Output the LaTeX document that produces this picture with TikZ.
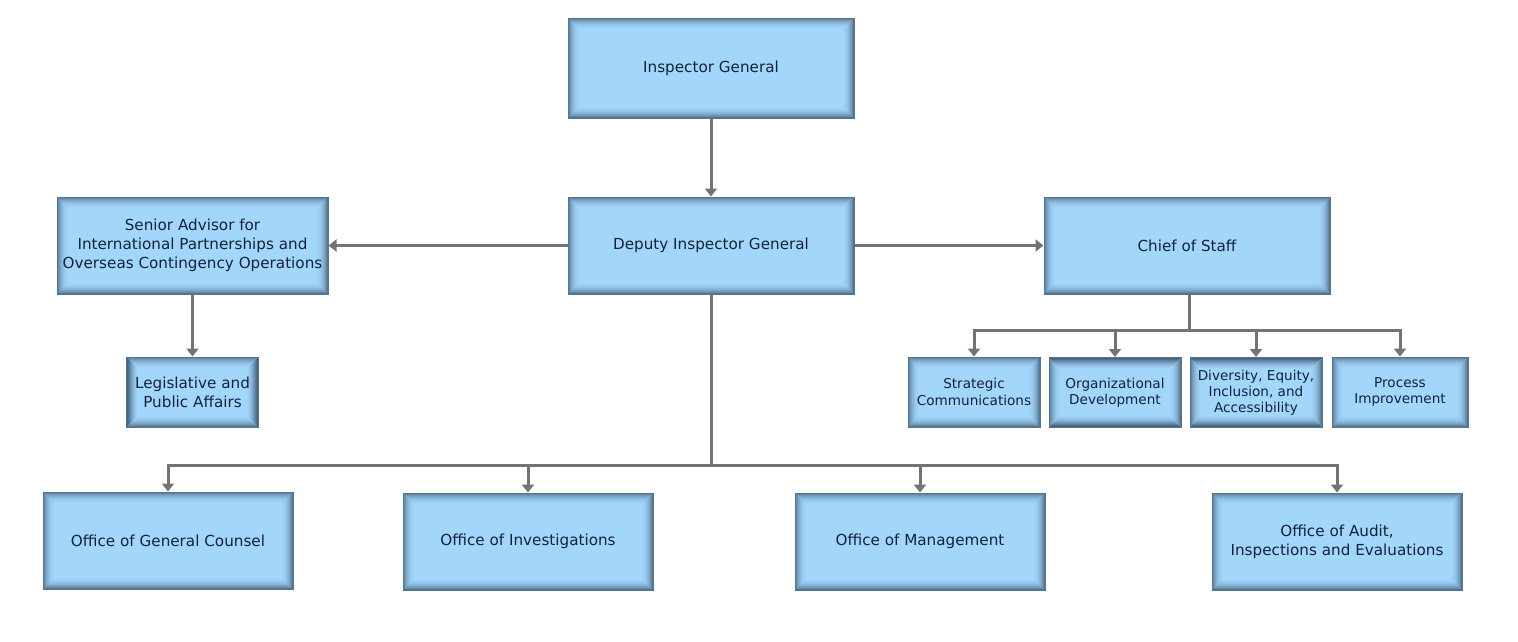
\documentclass[tikz,border=0pt]{standalone}
\usepackage{fontspec}
\setmainfont{DejaVu Sans}
\usetikzlibrary{arrows.meta}
\definecolor{boxfill}{HTML}{A3D6FB}
\definecolor{boxedge}{HTML}{5A7489}
\definecolor{glow}{HTML}{3A5670}
\definecolor{txt}{HTML}{14213D}
\definecolor{conn}{HTML}{737373}
\tikzset{
  orgbox/.style={draw=boxedge, line width=1pt, fill=boxfill, text=txt, align=center, inner sep=2pt,
    path picture={
      \foreach \i/\o in {1/0.75,2/0.6,3/0.48,4/0.38,5/0.29,6/0.22,7/0.16,8/0.11,9/0.07,10/0.04,11/0.02}{
        \draw[draw=glow, line width=1.05pt, opacity=\o]
          ([xshift=\i pt-0.5pt, yshift=-\i pt+0.5pt]path picture bounding box.north west) rectangle
          ([xshift=-\i pt+0.5pt, yshift=\i pt-0.5pt]path picture bounding box.south east);
      }
    }},
  bigfont/.style={font=\fontsize{15.2}{19}\selectfont},
  bigbox/.style={orgbox, bigfont},
  smallbox/.style={orgbox, font=\fontsize{13.6}{16.2}\selectfont, minimum width=132pt, minimum height=70pt},
  link/.style={draw=conn, line width=3pt},
  arr/.style={link, -{Triangle[width=12pt,length=8pt]}}
}
\begin{document}
\begin{tikzpicture}[x=1pt,y=-1pt]
\useasboundingbox (0,0) rectangle (1518,641);
\node[bigbox, minimum width=286pt, minimum height=100pt] (ig) at (711,68) {Inspector General};
\node[bigbox, minimum width=286pt, minimum height=97pt] (dig) at (711,245.5) {Deputy Inspector General};
\node[bigbox, minimum width=271pt, minimum height=97pt] (sa) at (192.5,245.5) {Senior Advisor for\\International Partnerships and\\Overseas Contingency Operations};
\node[bigbox, minimum width=286pt, minimum height=97pt] (cos) at (1187,245.5) {Chief of Staff};
\node[smallbox, bigfont] (lpa) at (192.5,392) {Legislative and\\Public Affairs};
\node[smallbox] (sc) at (974,392) {Strategic\\Communications};
\node[smallbox] (od) at (1115,392.5) {Organizational\\Development};
\node[smallbox] (dei) at (1256,392.5) {Diversity, Equity,\\Inclusion, and\\Accessibility};
\node[smallbox, minimum width=136pt] (pi) at (1400,392) {Process\\Improvement};
\node[bigbox, minimum width=250pt, minimum height=97pt] (ogc) at (168,540.5) {Office of General Counsel};
\node[bigbox, minimum width=250pt, minimum height=97pt] (oi) at (528,541.5) {Office of Investigations};
\node[bigbox, minimum width=250pt, minimum height=97pt] (om) at (920,541.5) {Office of Management};
\node[bigbox, minimum width=250pt, minimum height=97pt] (oaie) at (1337,541.5) {Office of Audit,\\Inspections and Evaluations};
\coordinate (cj) at (1189,330);
\coordinate (dj) at (711,465);
\draw[arr] (ig) -- (dig);
\draw[arr] (dig.west) -- (sa.east);
\draw[arr] (dig.east) -- (cos.west);
\draw[arr] (sa) -- (lpa);
\draw[link] (cos.south -| cj) -- (cj);
\draw[arr] (cj) -| (sc.north);
\draw[arr] (cj) -| (od.north);
\draw[arr] (cj) -| (dei.north);
\draw[arr] (cj) -| (pi.north);
\draw[link] (dig) -- (dj);
\draw[arr] (dj) -| (ogc.north);
\draw[arr] (dj) -| (oi.north);
\draw[arr] (dj) -| (om.north);
\draw[arr] (dj) -| (oaie.north);
\end{tikzpicture}
\end{document}
